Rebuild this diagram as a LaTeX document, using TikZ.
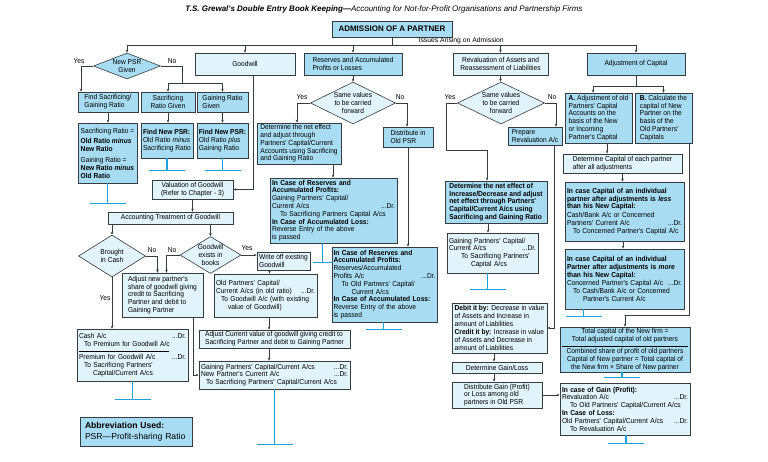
\documentclass[tikz,border=0pt]{standalone}
\usepackage{fontspec}
\setmainfont{Liberation Sans}
\newfontfamily\cond{Liberation Sans}[FakeStretch=0.92]
\usetikzlibrary{shapes.geometric, arrows.meta}

\definecolor{darkfill}{RGB}{168,220,242}
\definecolor{lightfill}{RGB}{225,243,251}
\definecolor{contblue}{RGB}{30,160,220}
\definecolor{edge}{RGB}{55,60,65}

\newcommand{\fs}{\cond\fontsize{7.2}{7.8}\selectfont}
\newcommand{\drr}{\hskip 0pt plus 1fill...Dr.}

\tikzset{
  box/.style={draw=edge, line width=0.6pt, inner xsep=2pt, inner ysep=1pt, align=left, font=\fs},
  lbox/.style={box, fill=lightfill},
  dbox/.style={box, fill=darkfill},
  ask/.style={diamond, draw=edge, line width=0.6pt, inner sep=0pt, align=center, font=\fs},
  wire/.style={draw=edge, line width=0.5pt},
  arr/.style={wire, -{Stealth[length=3pt, width=2.5pt]}},
  cont/.style={draw=contblue, line width=1.4pt},
  lbl/.style={font=\fs, inner sep=0.5pt},
}

\begin{document}
\begin{tikzpicture}[x=1pt, y=-1pt]

    \useasboundingbox[fill=white] (0,0) rectangle (768,461);

    % Heading
    \node[font=\fontsize{8}{9}\selectfont\itshape] (head) at (384,9) {\textbf{T.S. Grewal's Double Entry Book Keeping---}Accounting for Not-for-Profit Organisations and Partnership Firms};
    \node[dbox, font=\fontsize{8}{9}\selectfont\bfseries, align=center, minimum width=120pt, minimum height=16pt] (title) at (392,29) {ADMISSION OF A PARTNER};
    \node[font=\fontsize{6.8}{8}\selectfont, inner sep=0.5pt, anchor=west] (issues) at (418,40.5) {Issues Arising on Admission};

    % Top row
    \node[ask, fill=darkfill, aspect=2.6, minimum width=67pt, minimum height=26pt] (psrq) at (127,66) {New PSR\\Given};
    \node[lbox, align=center, minimum width=100pt, minimum height=22pt] (gw) at (245,64) {Goodwill};
    \node[dbox, minimum width=98pt, minimum height=22pt] (res) at (353,64) {Reserves and Accumulated\\Profits or Losses};
    \node[lbox, align=center, minimum width=95pt, minimum height=22pt] (rev) at (500.5,64) {Revaluation of Assets and\\Reassessment of Liabilities};
    \node[dbox, align=center, minimum width=98pt, minimum height=22pt] (adjcap) at (636,64) {Adjustment of Capital};

    \draw[wire] (title.south) -- ++(0,8) coordinate (bus);
    \draw[wire] (psrq.north |- bus) -- (adjcap.north |- bus);
    \foreach \n in {psrq, gw, res, rev, adjcap}
        \draw[arr] (\n.north |- bus) -- (\n.north);

    % New PSR
    \node[dbox, minimum width=60pt, minimum height=20pt] (findsg) at (108,102) {Find Sacrificing/\\Gaining Ratio};
    \node[dbox, align=center, minimum width=54pt, minimum height=20pt] (sacgiven) at (168,102) {Sacrificing\\Ratio Given};
    \node[dbox, minimum width=51pt, minimum height=20pt] (gaingiven) at (222.5,102) {Gaining Ratio\\Given};
    \node[lbl] (yes1) at (79,61) {Yes};
    \node[lbl] (no1) at (172,61) {No};
    \draw[arr] (psrq.west) -| ([xshift=-27pt]findsg.north);
    \draw[wire] (psrq.east) -| (182,83) coordinate (psrno);
    \draw[wire] (sacgiven.north |- psrno) -- (gaingiven.north |- psrno);
    \draw[arr] (sacgiven.north |- psrno) -- (sacgiven.north);
    \draw[arr] (gaingiven.north |- psrno) -- (gaingiven.north);

    \node[dbox, minimum width=59pt, minimum height=60pt] (sacratio) at (107.5,153) {Sacrificing Ratio =\\[3pt]\textbf{Old Ratio \textit{minus}}\\\textbf{New Ratio}\\[3pt]Gaining Ratio =\\\textbf{New Ratio \textit{minus}}\\\textbf{Old Ratio}};
    \node[dbox, minimum width=52pt, minimum height=35pt] (newpsr1) at (167,140.5) {\textbf{Find New PSR:}\\Old Ratio \textit{minus}\\Sacrificing Ratio};
    \node[dbox, minimum width=51pt, minimum height=35pt] (newpsr2) at (222.5,140.5) {\textbf{Find New PSR:}\\Old Ratio \textit{plus}\\Gaining Ratio};
    \draw[arr] (findsg.south) -- (findsg.south |- sacratio.north);
    \draw[arr] (sacgiven.south) -- (sacgiven.south |- newpsr1.north);
    \draw[arr] (gaingiven.south) -- (gaingiven.south |- newpsr2.north);

    % Goodwill
    \node[lbox, align=center, minimum width=81pt, minimum height=19pt] (valgw) at (192.5,189.5) {Valuation of Goodwill\\(Refer to Chapter - 3)};
    \draw[arr] ([xshift=8pt]gw.south) |- (valgw.east);
    \node[lbox, align=center, minimum width=125pt, minimum height=12pt] (acctgw) at (170.5,218) {Accounting Treatment of Goodwill};
    \draw[arr] (valgw.south) -- (valgw.south |- acctgw.north);
    \node[ask, fill=lightfill, aspect=1.6, minimum width=67pt, minimum height=42pt] (cashq) at (112,256) {Brought\\in Cash};
    \node[ask, fill=lightfill, aspect=1.65, minimum width=61pt, minimum height=37pt] (gwq) at (210.5,255) {Goodwill\\exists in\\books};
    \draw[arr] (cashq.north |- acctgw.south) -- (cashq.north);
    \draw[arr] (gwq.north |- acctgw.south) -- (gwq.north);

    \node[lbox, minimum width=81pt, minimum height=44pt] (adjnew) at (162.5,295) {Adjust new partner's\\share of goodwill giving\\credit to Sacrificing\\Partner and debit to\\Gaining Partner};
    \draw[arr] (cashq.east) -| ([xshift=-5pt]adjnew.north);
    \draw[arr] (gwq.west) -| ([xshift=4pt]adjnew.north);
    \node[lbl] (no2) at (152,250) {No};
    \node[lbl] (no3) at (172,250) {No};

    \node[lbox, minimum width=53pt, minimum height=18pt] (wo) at (283.5,261) {Write off existing\\Goodwill};
    \draw[arr] (gwq.east) -- (gwq.east -| wo.west);
    \node[lbl] (yes3) at (247,248) {Yes};
    \node[lbox, text width=99pt, minimum height=43pt] (oldcap) at (265.5,295.5) {Old Partners' Capital/\\Current A/cs (in old ratio)\drr\hspace*{6pt}\\\hspace*{5pt}To Goodwill A/c (with existing\\\hspace*{12pt}value of Goodwill)};
    \draw[arr] ([xshift=-14pt]wo.south) -- ([xshift=-14pt]wo.south |- oldcap.north);

    \node[lbox, text width=107pt, minimum height=52pt] (cash) at (132.5,355) {Cash A/c\drr\\\hspace*{5pt}To Premium for Goodwill A/c\\[-2pt]\rule{90pt}{0.5pt}\\Premium for Goodwill A/c\drr\\\hspace*{5pt}To Sacrificing Partners'\\\hspace*{14pt}Capital/Current A/cs};
    \draw[arr] (cashq.south) -- (cashq.south |- cash.north);
    \node[lbl] (yes2) at (105,298) {Yes};

    \node[lbox, minimum width=151pt, minimum height=18pt] (adjcur) at (274.5,339) {Adjust Current value of goodwill giving credit to\\Sacrificing Partner and debit to Gaining Partner};
    \draw[arr] ([xshift=3.5pt]oldcap.south) -- ([xshift=3.5pt]oldcap.south |- adjcur.north);
    \node[lbox, text width=147pt, minimum height=28pt] (gainent) at (274.5,375) {Gaining Partners' Capital/Current A/cs\drr\\New Partner's Current A/c\drr\\\hspace*{5pt}To Sacrificing Partners' Capital/Current A/cs};
    \draw[arr] ([xshift=-5.5pt]adjcur.south) -- ([xshift=-5.5pt]adjcur.south |- gainent.north);
    \draw[arr] ([xshift=30.5pt]adjnew.south) |- (gainent.west);

    \node[dbox, text width=102pt, minimum height=29pt, inner xsep=5pt, font=\fontsize{8.6}{11}\selectfont] (abbr) at (136,431.5) {\textbf{Abbreviation Used:}\\PSR---Profit-sharing Ratio};

    % Reserves and accumulated profits
    \node[ask, fill=lightfill, aspect=2, minimum width=85pt, minimum height=42pt] (resq) at (353,103) {Same values\\to be carried\\forward};
    \draw[arr] (res.south) -- (resq.north);
    \node[dbox, minimum width=84pt, minimum height=41pt] (detres) at (299,143.5) {Determine the net effect\\and adjust through\\Partners' Capital/Current\\Accounts using Sacrificing\\and Gaining Ratio};
    \node[dbox, minimum width=50pt, minimum height=20pt] (dist) at (408,137) {Distribute in\\Old PSR};
    \draw[arr] (resq.west) -| ([xshift=-2pt]detres.north);
    \draw[arr] (resq.east) -| ([xshift=-1pt]dist.north);
    \node[lbl] (yes4) at (302,97) {Yes};
    \node[lbl] (no4) at (400,97) {No};

    \node[dbox, text width=123pt, minimum height=65pt] (incase1) at (333.5,210.5) {\textbf{In Case of Reserves and}\\\textbf{Accumulated Profits:}\\Gaining Partners' Capital/\\Current A/cs\drr\\\hspace*{8pt}To Sacrificing Partners Capital A/cs\\\textbf{In Case of Accumulated Loss:}\\Reverse Entry of the above\\is passed};
    \draw[arr] ([xshift=34pt]detres.south) -- ([xshift=34pt]detres.south |- incase1.north);
    \node[dbox, text width=102pt, inner xsep=1.5pt, minimum height=75pt] (incase2) at (384.5,284.5) {\textbf{In Case of Reserves and}\\\textbf{Accumulated Profits:}\\Reserves/Accumulated\\Profits A/c\drr\\\hspace*{8pt}To Old Partners' Capital/\\\hspace*{18pt}Current A/cs\\\textbf{In Case of Accumulated Loss:}\\Reverse Entry of the above\\is passed};
    \draw[arr] (dist.south) -- (dist.south |- incase2.north);

    % Revaluation
    \node[ask, fill=lightfill, aspect=2.1, minimum width=87pt, minimum height=42pt] (revq) at (501,103) {Same values\\to be carried\\forward};
    \draw[arr] (rev.south) -- (rev.south |- revq.north);
    \node[lbl] (yes5) at (450,97) {Yes};
    \node[lbl] (no5) at (552,97) {No};
    \node[dbox, minimum width=54pt, minimum height=18pt] (prep) at (535,136) {Prepare\\Revaluation A/c};
    \draw[arr] (revq.east) -| ([xshift=21pt]prep.north);
    \node[dbox, minimum width=102pt, minimum height=42pt, font=\fs\bfseries] (detrev) at (496,202) {Determine the net effect of\\Increase/Decrease and adjust\\net effect through Partners'\\Capital/Current A/cs using\\Sacrificing and Gaining Ratio};
    \draw[arr] (revq.west) -- ++(-11,0) -- ++(0,47) -| ([xshift=-9pt]detrev.north);
    \node[lbox, text width=87pt, minimum height=40pt] (gainrev) at (492.5,253) {Gaining Partners' Capital/\\Current A/cs\drr\\\hspace*{12pt}To Sacrificing Partners'\\\hspace*{22pt}Capital A/cs};
    \draw[arr] ([xshift=-8pt]detrev.south) -- ([xshift=-8pt]detrev.south |- gainrev.north);

    \node[lbox, minimum width=95pt, minimum height=50pt] (debit) at (499.5,328) {\textbf{Debit it by:} Decrease in value\\of Assets and Increase in\\amount of Liabilities\\[1pt]\textbf{Credit it by:} Increase in value\\of Assets and Decrease in\\amount of Liabilities};
    \draw[arr] ([xshift=19pt]prep.south) |- (debit.east);
    \node[lbox, align=center, minimum width=90pt, minimum height=11pt] (detgl) at (497,367.5) {Determine Gain/Loss};
    \draw[arr] ([xshift=-5.5pt]debit.south) -- ([xshift=-5.5pt]debit.south |- detgl.north);
    \node[lbox, minimum width=90pt, minimum height=26pt] (distgl) at (497,395) {Distribute Gain (Profit)\\or Loss among old\\partners in Old PSR};
    \draw[arr] ([xshift=-3pt]detgl.south) -- ([xshift=-3pt]detgl.south |- distgl.north);

    % Adjustment of capital
    \node[dbox, minimum width=67pt, minimum height=50pt] (boxa) at (598.5,118) {\textbf{A.} Adjustment of old\\Partners' Capital\\Accounts on the\\basis of the New\\or Incoming\\Partner's Capital};
    \node[dbox, minimum width=57pt, minimum height=50pt] (boxb) at (663.5,118) {\textbf{B.} Calculate the\\capital of New\\Partner on the\\basis of the\\Old Partners'\\Capitals};
    \draw[wire] (adjcap.south) -- ++(0,11) coordinate (capsplit);
    \draw[wire] ([xshift=-5.5pt]boxa.north |- capsplit) -- (boxb.north |- capsplit);
    \draw[arr] ([xshift=-5.5pt]boxa.north |- capsplit) -- ([xshift=-5.5pt]boxa.north);
    \draw[arr] (boxb.north |- capsplit) -- (boxb.north);

    \node[lbox, minimum width=119pt, minimum height=19pt] (detcap) at (622.5,163.5) {Determine Capital of each partner\\after all adjustments};
    \draw[arr] ([xshift=8.5pt]boxa.south) -- ([xshift=8.5pt]boxa.south |- detcap.north);
    \node[dbox, text width=115pt, minimum height=59pt] (less) at (624.5,211.5) {\textbf{In case Capital of an individual}\\\textbf{partner after adjustments is \textit{less}}\\\textbf{than his New Capital:}\\[1pt]Cash/Bank A/c or Concerned\\Partners' Current A/c\drr\\\hspace*{6pt}To Concerned Partner's Capital A/c};
    \draw[arr] (detcap.south) -- (detcap.south |- less.north);
    \node[dbox, text width=115pt, minimum height=60pt] (more) at (624.5,279) {\textbf{In case Capital of an individual}\\\textbf{Partner after adjustments is \textit{more}}\\\textbf{than his New Capital:}\\[1pt]Concerned Partner's Capital A/c\drr\\\hspace*{6pt}To Cash/Bank A/c or Concerned\\\hspace*{16pt}Partner's Current A/c};
    \draw[arr] ([xshift=-1.5pt]less.south) -- ([xshift=-1.5pt]less.south |- more.north);

    \node[dbox, align=center, minimum width=130pt, minimum height=45pt] (total) at (625,349.5) {Total capital of the New firm =\\Total adjusted capital of old partners\\[-2.5pt]\rule{126pt}{0.5pt}\\[-1pt]Combined share of profit of old partners\\Capital of New partner = Total capital of\\the New firm × Share of New partner};
    \draw[arr] ([xshift=25.5pt]boxb.south) |- ([yshift=-6pt]more.south) -| (total.north);

    \node[lbox, text width=126pt, minimum height=52pt] (gaincase) at (625,409) {\textbf{In case of Gain (Profit):}\\Revaluation A/c\drr\\\hspace*{8pt}To Old Partners' Capital/Current A/cs\\\textbf{In Case of Loss:}\\Old Partners' Capital/Current A/cs\drr\\\hspace*{8pt}To Revaluation A/c};
    \draw[arr] (distgl.east) -- (distgl.east -| gaincase.west);

    % Continuation marks
    \foreach \n/\dx/\l/\w in {sacratio/0/20/18, newpsr1/0/12/18, newpsr2/0/12/18, cash/0/18/18, gainent/0/55/18, incase1/-11/19/10, incase2/-1/7/18, gainrev/-5/16/18, more/-41/7/18, total/-3/5/18, gaincase/1/8/18}
        \draw[cont] ([xshift=\dx pt]\n.south) -- ++(0,\l) ++(-\w,0) -- ++(2*\w,0);

\end{tikzpicture}
\end{document}
